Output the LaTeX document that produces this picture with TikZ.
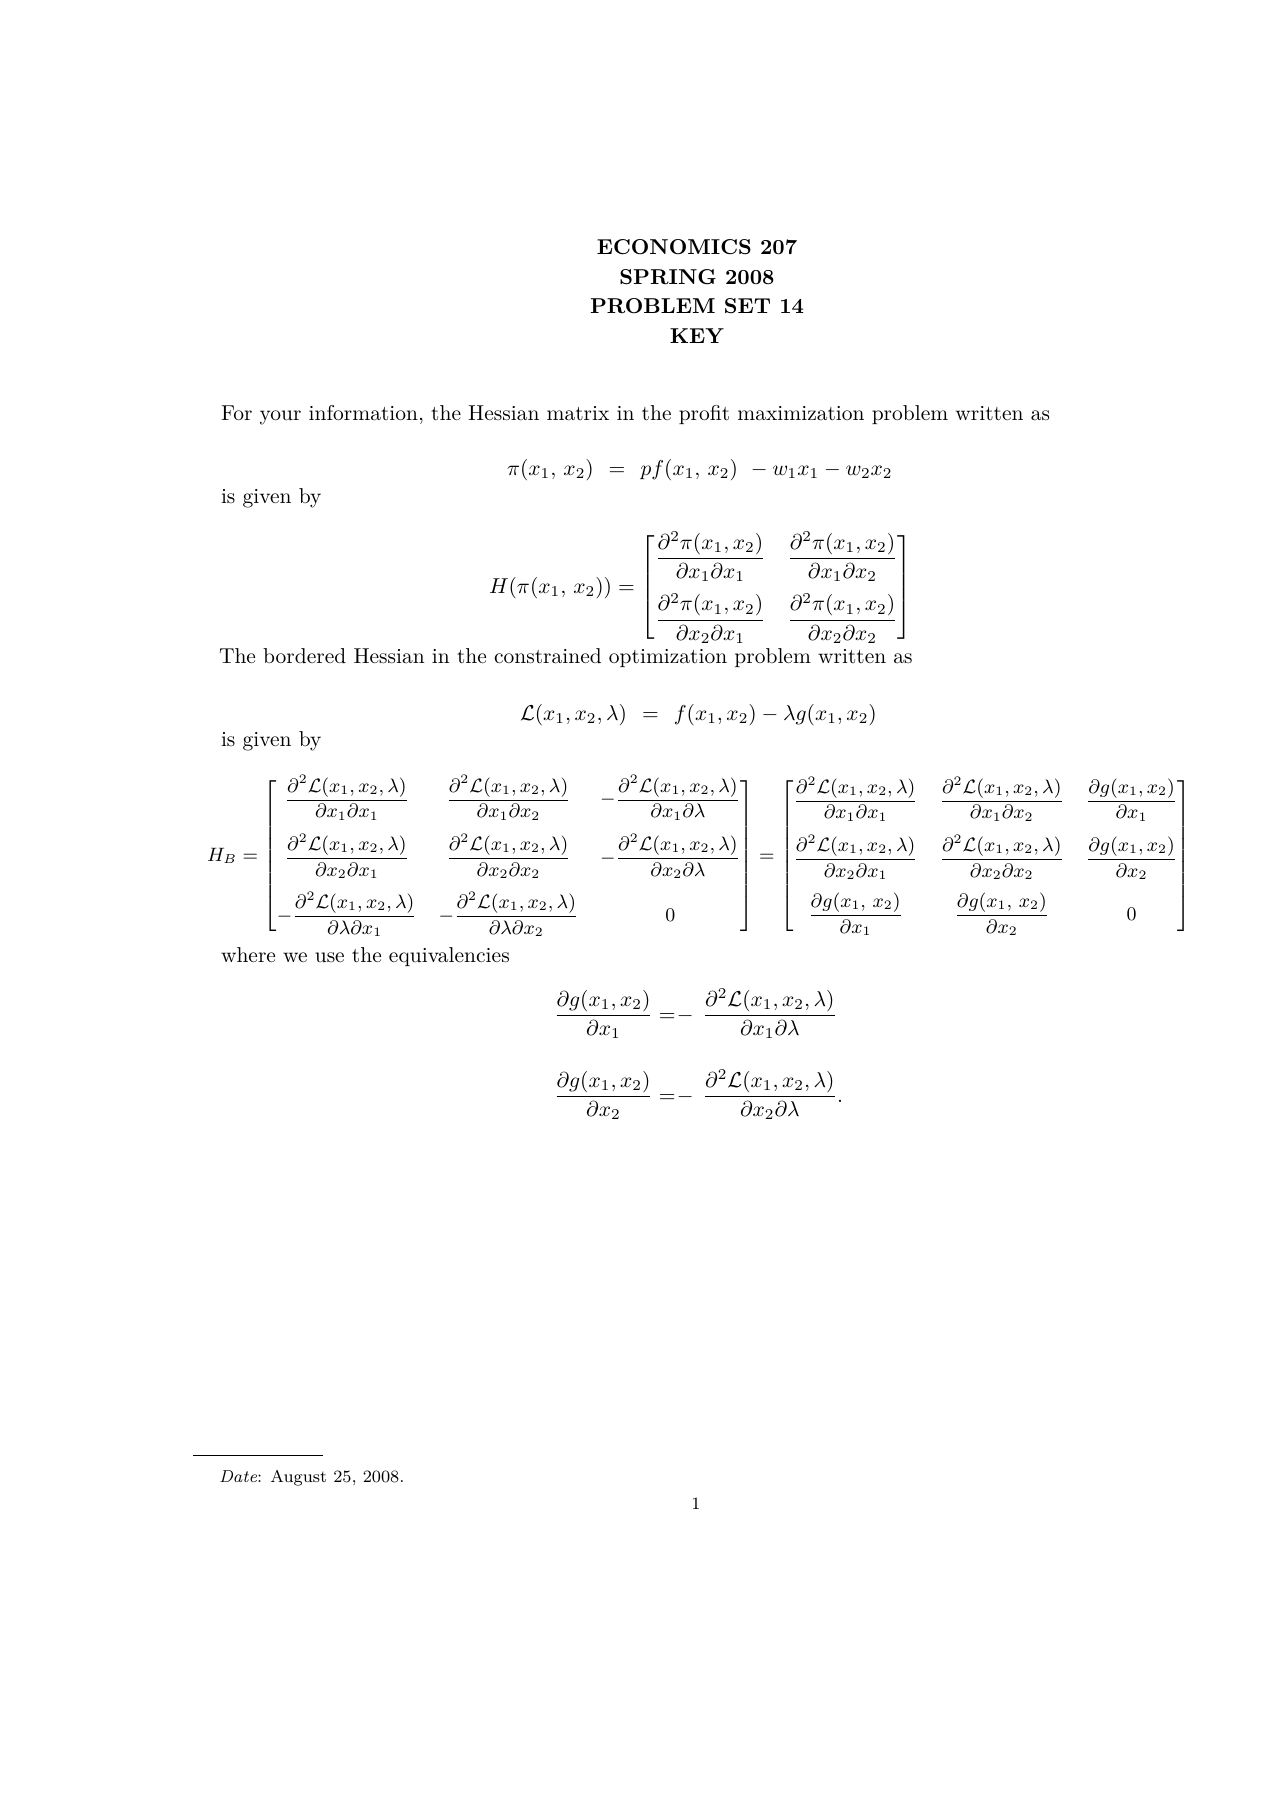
\documentclass[tikz,border=0pt]{standalone}
\usepackage{amsmath,amssymb}
\begin{document}
\begin{tikzpicture}[x=0.465058pt,y=-0.465058pt,
  txt/.style={inner sep=0pt,outer sep=0pt,anchor=base west},
  ctr/.style={inner sep=0pt,outer sep=0pt,anchor=base},
  ttl/.style={inner sep=0pt,outer sep=0pt,anchor=base,font=\bfseries},
  fnote/.style={inner sep=0pt,outer sep=0pt,anchor=base west,font=\footnotesize}]
\useasboundingbox[fill=white] (0,0) rectangle (1280,1811);
% title
\node[ttl] (t1) at (697,254) {ECONOMICS 207};
\node[ttl] (t2) at (697,284) {SPRING 2008};
\node[ttl] (t3) at (697,314) {PROBLEM SET 14};
\node[ttl] (t4) at (697,343) {KEY};
% body
\node[txt] (p1) at (221,420) {For your information, the Hessian matrix in the profit maximization problem written as};
\node[txt] (e1) at (507,475) {$\displaystyle \pi(x_1,\,x_2)\hspace{4.2pt}=\hspace{4.2pt}pf(x_1,\,x_2)\hspace{3.8pt}{}-w_1x_1-w_2x_2$};
\node[txt] (p2) at (221,503) {is given by};
\node[txt] (e2) at (489,593) {$\displaystyle H(\pi(x_1,\,x_2))=\begin{bmatrix}
\dfrac{\partial^2\pi(x_1,x_2)}{\partial x_1\partial x_1} & \dfrac{\partial^2\pi(x_1,x_2)}{\partial x_1\partial x_2}\\[10.2pt]
\dfrac{\partial^2\pi(x_1,x_2)}{\partial x_2\partial x_1} & \dfrac{\partial^2\pi(x_1,x_2)}{\partial x_2\partial x_2}
\end{bmatrix}$};
\node[txt] (p3) at (219,663) {The bordered Hessian in the constrained optimization problem written as};
\node[txt] (e3) at (520,720) {$\displaystyle \mathcal{L}(x_1,x_2,\lambda)\hspace{4.2pt}=\hspace{4.2pt}f(x_1,x_2)-\lambda g(x_1,x_2)$};
\node[txt] (p4) at (221,746) {is given by};
\node[txt,font=\small] (e4) at (207,861) {$\displaystyle H_B=\begin{bmatrix}
\dfrac{\partial^2\mathcal{L}(x_1,x_2,\lambda)}{\partial x_1\partial x_1} & \dfrac{\partial^2\mathcal{L}(x_1,x_2,\lambda)}{\partial x_1\partial x_2} & -\dfrac{\partial^2\mathcal{L}(x_1,x_2,\lambda)}{\partial x_1\partial \lambda}\\[10.3pt]
\dfrac{\partial^2\mathcal{L}(x_1,x_2,\lambda)}{\partial x_2\partial x_1} & \dfrac{\partial^2\mathcal{L}(x_1,x_2,\lambda)}{\partial x_2\partial x_2} & -\dfrac{\partial^2\mathcal{L}(x_1,x_2,\lambda)}{\partial x_2\partial \lambda}\\[10.3pt]
-\dfrac{\partial^2\mathcal{L}(x_1,x_2,\lambda)}{\partial \lambda\partial x_1} & -\dfrac{\partial^2\mathcal{L}(x_1,x_2,\lambda)}{\partial \lambda\partial x_2} & 0
\end{bmatrix}=\begin{bmatrix}
\dfrac{\partial^2\mathcal{L}(x_1,x_2,\lambda)}{\partial x_1\partial x_1} & \dfrac{\partial^2\mathcal{L}(x_1,x_2,\lambda)}{\partial x_1\partial x_2} & \dfrac{\partial g(x_1,x_2)}{\partial x_1}\\[10.3pt]
\dfrac{\partial^2\mathcal{L}(x_1,x_2,\lambda)}{\partial x_2\partial x_1} & \dfrac{\partial^2\mathcal{L}(x_1,x_2,\lambda)}{\partial x_2\partial x_2} & \dfrac{\partial g(x_1,x_2)}{\partial x_2}\\[10.3pt]
\dfrac{\partial g(x_1,\,x_2)}{\partial x_1} & \dfrac{\partial g(x_1,\,x_2)}{\partial x_2} & 0
\end{bmatrix}$};
\node[txt] (p5) at (221,962) {where we use the equivalencies};
\node[txt] (e5) at (554,1021) {$\displaystyle \frac{\partial g(x_1,x_2)}{\partial x_1}=\mkern-4mu-\hspace{4.2pt}\frac{\partial^2\mathcal{L}(x_1,x_2,\lambda)}{\partial x_1\partial\lambda}$};
\node[txt] (e6) at (554,1102) {$\displaystyle \frac{\partial g(x_1,x_2)}{\partial x_2}=\mkern-4mu-\hspace{4.2pt}\frac{\partial^2\mathcal{L}(x_1,x_2,\lambda)}{\partial x_2\partial\lambda}.$};
% footnote
\coordinate (r1) at (193,1455);
\coordinate (r2) at (323,1455);
\draw[line width=0.4pt] (r1) -- (r2);
\node[fnote] (fn) at (219,1482) {\textit{Date}: August 25, 2008.};
\node[ctr,font=\footnotesize] (pg) at (696,1509) {1};
\end{tikzpicture}
\end{document}
